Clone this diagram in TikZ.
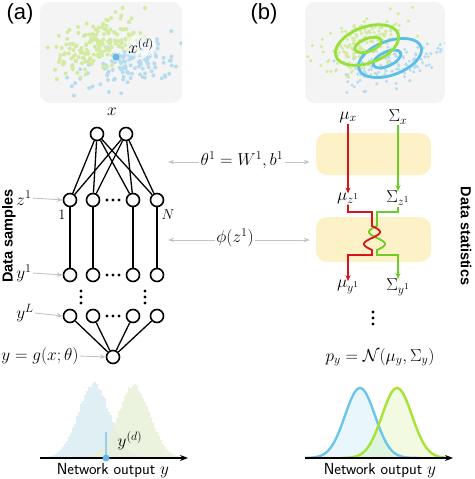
\documentclass[tikz,border=0pt]{standalone}
\usepackage{fontspec}
\newfontfamily\arialfont{Liberation Sans}
\usetikzlibrary{arrows.meta,calc}
\definecolor{boxgray}{HTML}{F4F4F4}
\definecolor{scatgreen}{HTML}{D3EBA0}
\definecolor{scatblue}{HTML}{B8DCEF}
\definecolor{ellgreen}{HTML}{96E03A}
\definecolor{ellblue}{HTML}{5CBFE8}
\definecolor{arrgray}{HTML}{C4C4C4}
\definecolor{boxyellow}{HTML}{FDF1C8}
\definecolor{redarr}{HTML}{D7141A}
\definecolor{grnarr}{HTML}{6CCD24}
\definecolor{histblue}{HTML}{DFEFF4}
\definecolor{histgreen}{HTML}{E8F0D8}
\definecolor{gausblue}{HTML}{6CC6EC}
\definecolor{gausgreen}{HTML}{A5E434}
\definecolor{ptblue}{HTML}{68B6F0}
\begin{document}
\begin{tikzpicture}[x=1pt,y=-1pt,
  neuron/.style={circle,draw,line width=1.6pt,minimum size=13pt,inner sep=0pt,fill=white},
  edge/.style={line width=1.3pt},
  garrow/.style={draw=arrgray,line width=0.9pt,-{Stealth[length=6pt,width=4.5pt]}},
  mlbl/.style={font=\fontsize{18}{20}\selectfont,inner sep=1pt},
  slbl/.style={font=\sffamily\fontsize{16}{18}\selectfont,inner sep=1pt},
  panlbl/.style={font=\arialfont\fontsize{22}{24}\selectfont,inner sep=0pt},
  sidelbl/.style={font=\arialfont\bfseries\fontsize{14.5}{16}\selectfont,inner sep=0pt},
  dotrow/.style={fill,circle,inner sep=0pt,minimum size=3.2pt},
  redp/.style={draw=redarr,line width=1.8pt},
  grnp/.style={draw=grnarr,line width=1.8pt},
  tip/.style={-{Stealth[length=6pt,width=5pt]}}
]
\useasboundingbox (0,0) rectangle (474,479);

% ---------- panel labels
\node[panlbl] (pa) at (20,14) {(a)};
\node[panlbl] (pb) at (264,14) {(b)};

% ---------- scatter panel a
\begin{scope}
\clip[rounded corners=10pt] (40,2) rectangle (182,103);
\fill[boxgray] (40,2) rectangle (182,103);
\pgfmathsetseed{11}
\foreach \i in {1,...,120}{
  \pgfmathsetmacro\u{rand+rand+rand}
  \pgfmathsetmacro\v{rand+rand+rand}
  \fill[scatblue] ({128+24*\u},{66-5*\u+11*\v}) circle (2);
}
\foreach \i in {1,...,170}{
  \pgfmathsetmacro\u{rand+rand+rand}
  \pgfmathsetmacro\v{rand+rand+rand}
  \fill[scatgreen] ({96+21*\u},{46-7*\u+12*\v}) circle (2);
}
\end{scope}
\fill[ptblue] (116,57) circle (3.5);
\node[mlbl,fill=white,fill opacity=0.55,text opacity=1,rounded corners=4pt,inner sep=2pt] (xd) at (141,46) {$x^{(d)}$};

% ---------- scatter panel b
\begin{scope}
\clip[rounded corners=10pt] (305,2) rectangle (445,103);
\fill[boxgray] (305,2) rectangle (445,103);
\pgfmathsetseed{23}
\foreach \i in {1,...,120}{
  \pgfmathsetmacro\u{rand+rand+rand}
  \pgfmathsetmacro\v{rand+rand+rand}
  \fill[scatblue] ({394+24*\u},{63-5*\u+11*\v}) circle (1.7);
}
\foreach \i in {1,...,170}{
  \pgfmathsetmacro\u{rand+rand+rand}
  \pgfmathsetmacro\v{rand+rand+rand}
  \fill[scatgreen] ({362+21*\u},{44-7*\u+12*\v}) circle (1.7);
}
\end{scope}
\draw[ellblue,line width=2.8pt,rotate around={20:(390,58)}] (390,58) ellipse [x radius=33pt,y radius=17pt];
\draw[ellblue,line width=2.8pt,rotate around={25:(387,59)}] (387,59) ellipse [x radius=15pt,y radius=7pt];
\draw[ellgreen,line width=2.8pt,rotate around={20:(367,45)}] (367,45) ellipse [x radius=33pt,y radius=18pt];
\draw[ellgreen,line width=2.8pt,rotate around={20:(368,45)}] (368,45) ellipse [x radius=14pt,y radius=6.5pt];

% ---------- network
\node[mlbl] (xin) at (112,112) {$x$};
\node[neuron] (t1) at (97,134) {};
\node[neuron] (t2) at (126,134) {};
\foreach \n/\xx in {1/70,2/93,3/133,4/157}{
  \node[neuron] (z\n) at (\xx,200) {};
  \node[neuron] (y\n) at (\xx,275) {};
  \node[neuron] (l\n) at (\xx,316) {};
}
\node[neuron] (out) at (113,357) {};
\foreach \n in {1,2,3,4}{
  \draw[edge] (t1) -- (z\n);
  \draw[edge] (t2) -- (z\n);
  \draw[edge] (z\n) -- (y\n);
  \draw[edge] (l\n) -- (out);
}
\foreach \yy in {200,275,316}{
  \foreach \xx in {107,113,119}{
    \node[dotrow] at (\xx,\yy) {};
  }
}
\foreach \xx in {81,145}{
  \foreach \yy in {291,297,303}{
    \node[dotrow] at (\xx,\yy) {};
  }
}
\node[font=\fontsize{14}{16}\selectfont] (one) at (62,215) {$1$};
\node[font=\fontsize{14}{16}\selectfont] (nN) at (168,215) {$N$};

\node[mlbl] (lz) at (24,198) {$z^1$};
\node[mlbl] (ly) at (24,273) {$y^1$};
\node[mlbl] (lL) at (25,313) {$y^L$};
\node[mlbl] (lg) at (40,356) {$y=g(x;\theta)$};
\draw[garrow] (lz.east) -- (z1.west);
\draw[garrow] (ly.east) -- (y1.west);
\draw[garrow] (lL.east) -- (l1.west);
\draw[garrow] (lg.east) -- (out.west);

% ---------- middle labels
\node[mlbl] (theta) at (242,160) {$\theta^1 = W^1, b^1$};
\node[mlbl] (phi) at (235,238) {$\phi(z^1)$};
\coordinate (thL) at (168,162);
\coordinate (phL) at (168,240);
\node[fill=boxyellow,rounded corners=11pt,minimum width=115pt,minimum height=42pt,inner sep=0pt] (box1) at (373.5,154) {};
\node[fill=boxyellow,rounded corners=11pt,minimum width=115pt,minimum height=45pt,inner sep=0pt] (box2) at (373.5,239.5) {};
\draw[garrow] (theta.west|-thL) -- (thL);
\draw[garrow] (theta.east|-thL) -- ([xshift=-6pt]box1.west|-thL);
\draw[garrow] (phi.west|-phL) -- (phL);
\draw[garrow] (phi.east|-phL) -- ([xshift=-6pt]box2.west|-phL);

% ---------- statistics flow
\node[mlbl] (mux) at (348,117) {$\mu_x$};
\node[mlbl] (sgx) at (398,117) {$\Sigma_x$};
\node[mlbl] (muz) at (348,198) {$\mu_{z^1}$};
\node[mlbl] (sgz) at (398,198) {$\Sigma_{z^1}$};
\node[mlbl] (muy) at (348,287) {$\mu_{y^1}$};
\node[mlbl] (sgy) at (398,287) {$\Sigma_{y^1}$};
\draw[redp,tip] (mux.south) -- ([yshift=-2pt]muz.north);
\draw[grnp,tip] (sgx.south) -- ([yshift=-2pt]sgz.north);
\draw[grnp,tip] (sgz.south) |- (377,212) -- (377,226)
   -- plot[domain=0:24,samples=40] ({377-8*sin(15*\x)},{226+\x})
   -- (377,255) -| ([yshift=-2pt]sgy.north);
\draw[redp,tip] (muz.south) |- (372,212) -- (372,226)
   -- plot[domain=0:24,samples=40] ({372+8*sin(15*\x)},{226+\x})
   -- (372,255) -| ([yshift=-2pt]muy.north);
\foreach \yy in {312,318,324}{
  \node[dotrow] at (373,\yy) {};
}
\node[font=\fontsize{17}{19}\selectfont,inner sep=1pt] (py) at (380,357) {$p_y=\mathcal{N}(\mu_y,\Sigma_y)$};

% ---------- side labels
\node[sidelbl,rotate=90] (ds) at (9,236) {Data samples};
\node[sidelbl,rotate=-90] (dst) at (466,236) {Data statistics};

% ---------- histogram panel a
\pgfmathsetseed{5}
\fill[histblue] (48,458) -- plot[const plot,domain=48:146,samples=50] (\x,{458-73*exp(-((\x-93)/16)^2/2)*(1+0.05*rand)}) -- (146,458) -- cycle;
\fill[histgreen,opacity=0.85] (88,458) -- plot[const plot,domain=88:182,samples=48] (\x,{458-72*exp(-((\x-133)/16)^2/2)*(1+0.05*rand)}) -- (182,458) -- cycle;
\coordinate (ydtop) at (106,432);
\coordinate (ydbot) at (106,458);
\draw[ptblue!70,line width=1.5pt] (ydtop) -- (ydbot);
\node[mlbl] (yd) at (130,441) {$y^{(d)}$};
\coordinate (axLa) at (40,458);
\coordinate (axRa) at (188,458);
\draw[line width=1.4pt,-{Stealth[length=8pt,width=6pt]}] (axLa) -- (axRa);
\fill[ptblue] (ydbot) circle (3.5);
\node[slbl] (noa) at (113,471) {Network output $y$};

% ---------- gaussians panel b
\fill[gausblue,opacity=0.15] (305,458) -- plot[domain=305:420,samples=80] (\x,{458-70*exp(-((\x-360)/15)^2/2)}) -- cycle;
\fill[gausgreen,opacity=0.15] (342,458) -- plot[domain=342:450,samples=80] (\x,{458-70*exp(-((\x-397)/15)^2/2)}) -- cycle;
\draw[gausblue,line width=2.4pt] plot[domain=305:420,samples=80] (\x,{458-70*exp(-((\x-360)/15)^2/2)});
\draw[gausgreen,line width=2.4pt] plot[domain=342:450,samples=80] (\x,{458-70*exp(-((\x-397)/15)^2/2)});
\coordinate (axLb) at (305,458);
\coordinate (axRb) at (453,458);
\draw[line width=1.4pt,-{Stealth[length=8pt,width=6pt]}] (axLb) -- (axRb);
\node[slbl] (nob) at (380,471) {Network output $y$};
\end{tikzpicture}
\end{document}
